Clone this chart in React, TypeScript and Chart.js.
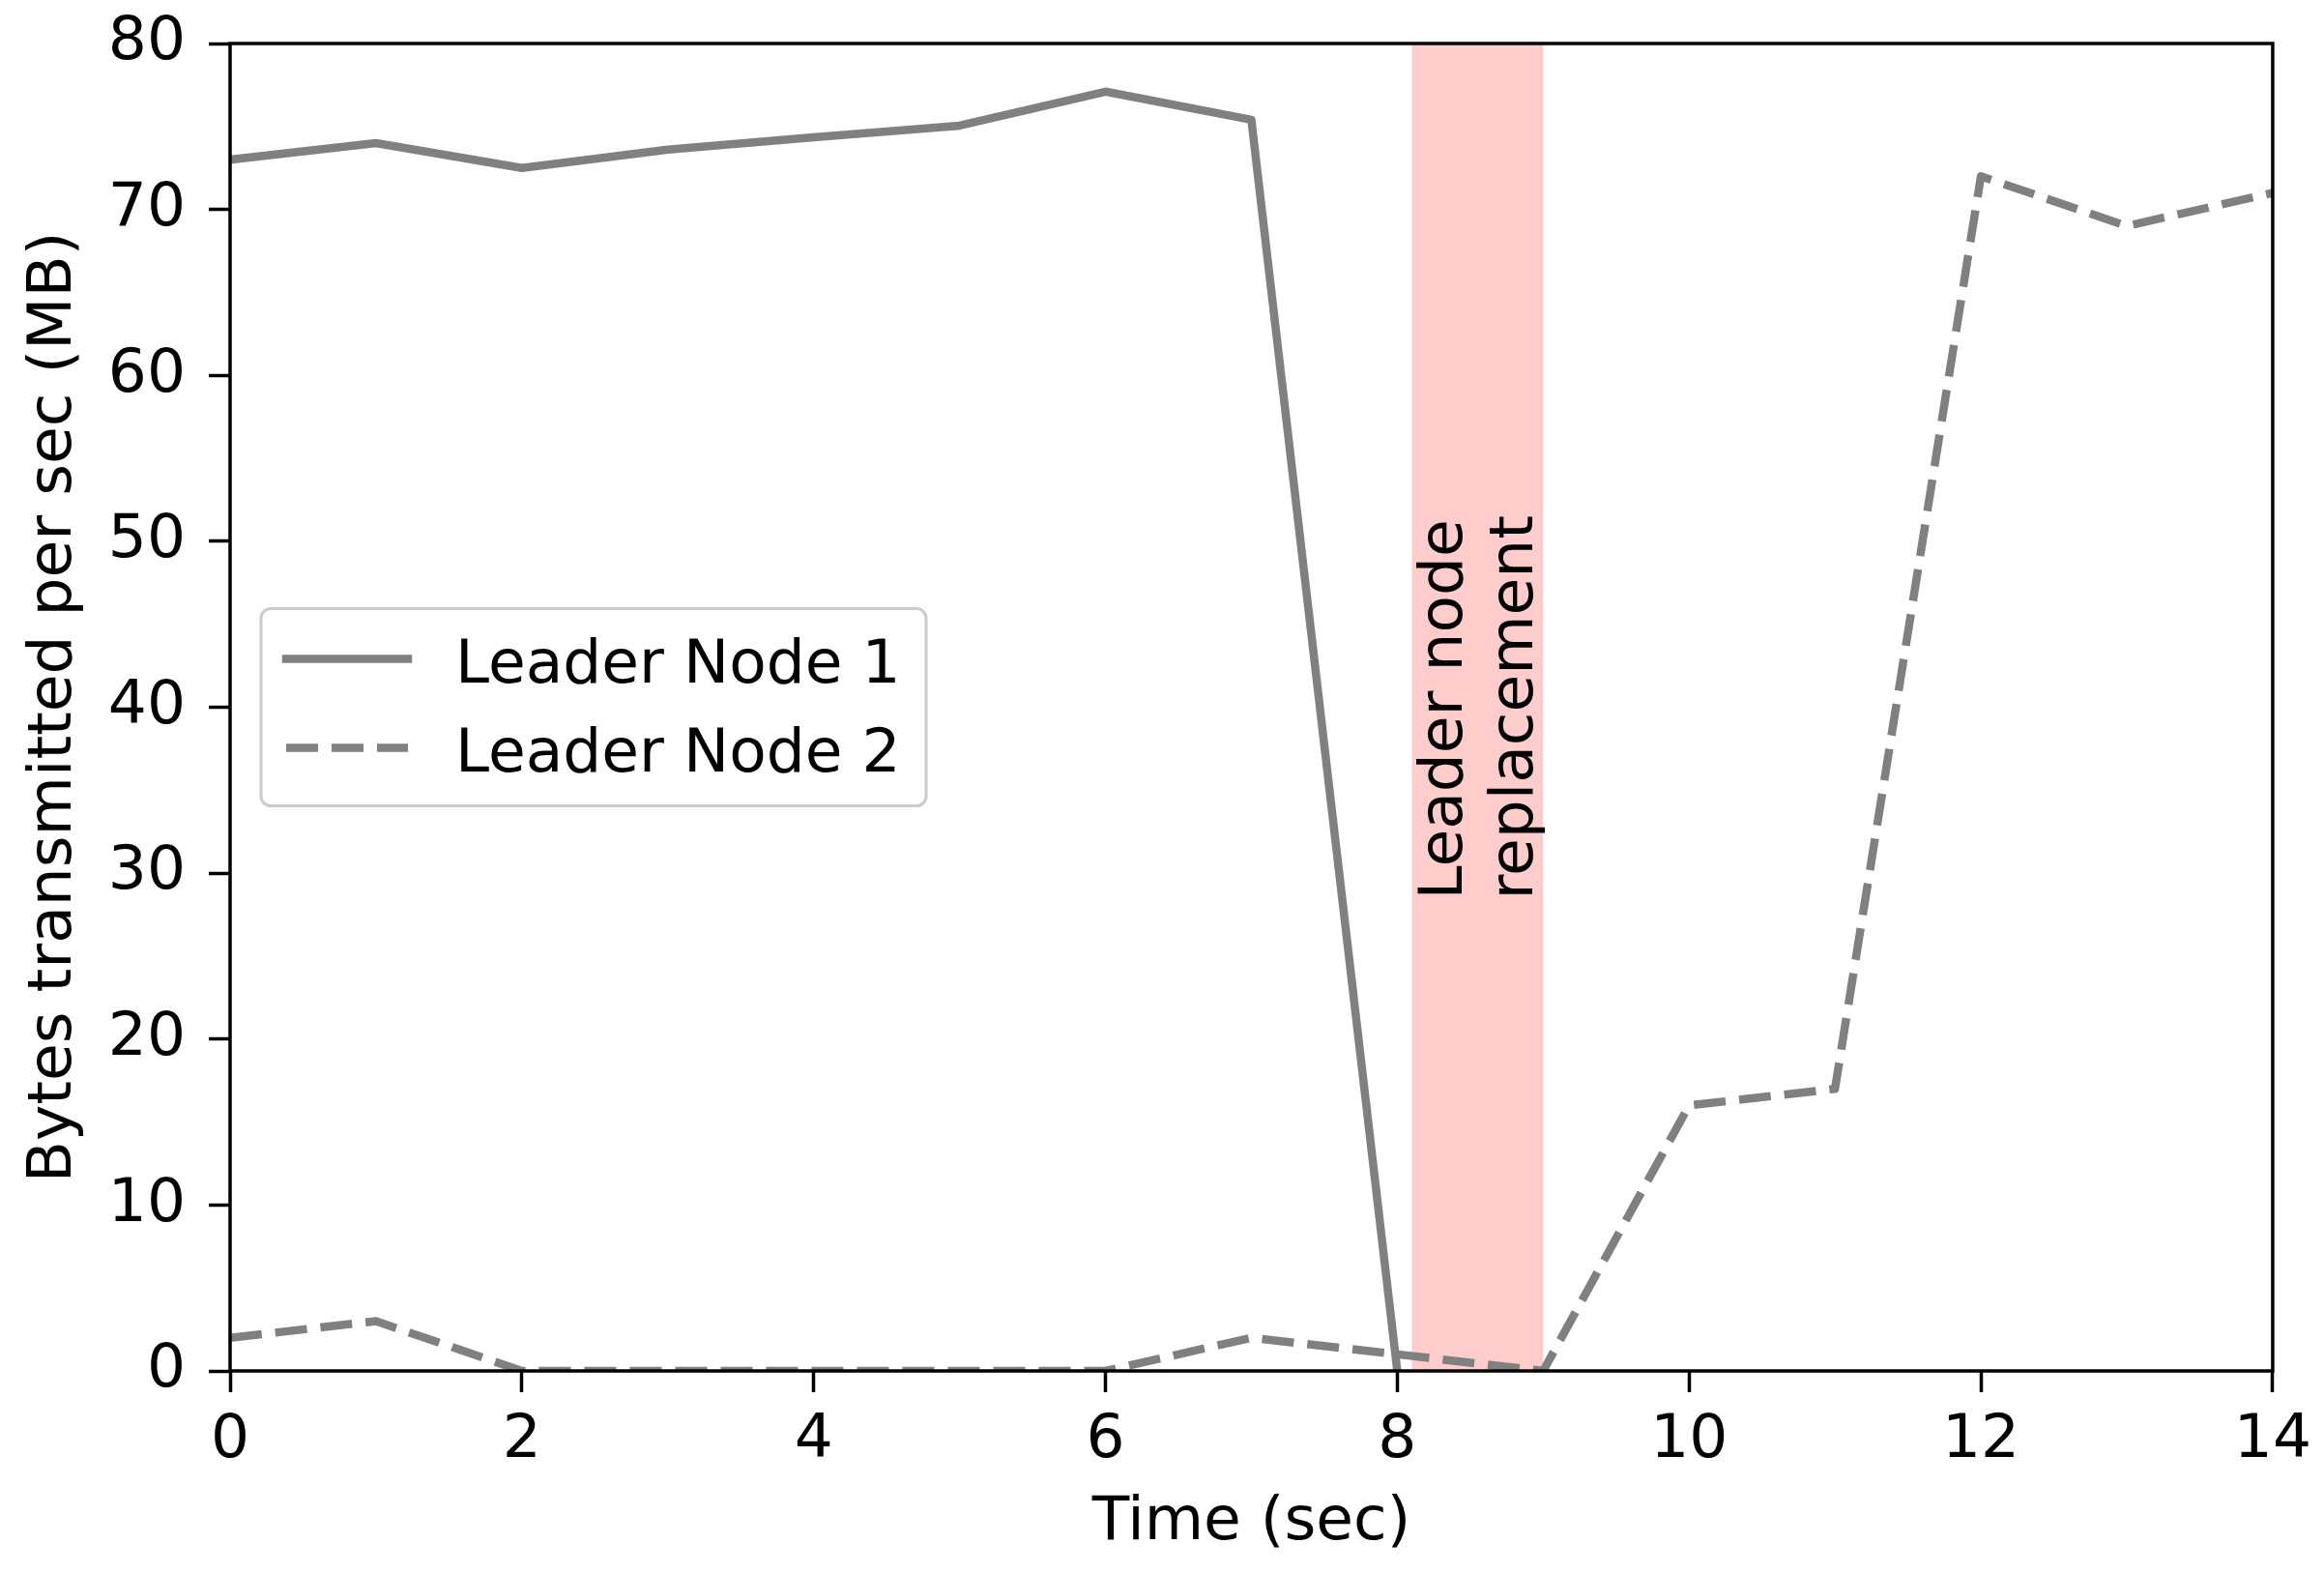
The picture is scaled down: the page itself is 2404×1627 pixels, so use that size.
import React, { useEffect, useRef } from "react";
import { Chart, registerables } from "chart.js";

Chart.register(...registerables);

const TIME = [0, 1, 2, 3, 4, 5, 6, 7, 8, 9, 10, 11, 12, 13, 14];
const LEADER_NODE_1 = [73.0, 74.0, 72.5, 73.6, 74.35, 75.05, 77.1, 75.4, 0];
const LEADER_NODE_2 = [2, 3, 0, 0, 0, 0, 0, 2, 1, 0, 16, 17, 72, 69, 71];
const SERIES_LABELS = ["Leader Node 1", "Leader Node 2"];
const X_TICKS = [0, 2, 4, 6, 8, 10, 12, 14];
const Y_TICKS = [0, 10, 20, 30, 40, 50, 60, 70, 80];
const SPAN_RANGE = [8.1, 9.0];
const SPAN_LABEL = ["Leader node", "replacement"];
const SPAN_LABEL_ANCHOR = [8.44, 28.4];
const X_TITLE = "Time (sec)";
const Y_TITLE = "Bytes transmitted per sec (MB)";

const FONT = "'DejaVu Sans', 'Liberation Sans', sans-serif";
const FS = 63;
const LINE_COLOR = "#808080";
const LW = 8.5;
const DASH = [33, 14];

const spanPlugin = {
  id: "spanPlugin",
  beforeDatasetsDraw(chart: any) {
    const { ctx, chartArea: ca, scales } = chart;
    const x0 = scales.x.getPixelForValue(SPAN_RANGE[0]);
    const x1 = scales.x.getPixelForValue(SPAN_RANGE[1]);
    ctx.save();
    ctx.fillStyle = "rgba(255,0,0,0.2)";
    ctx.fillRect(x0, ca.top, x1 - x0, ca.bottom - ca.top);
    ctx.restore();
  },
};

const overlayPlugin = {
  id: "overlayPlugin",
  afterDatasetsDraw(chart: any) {
    const { ctx, chartArea: ca, scales } = chart;
    // spines
    ctx.save();
    ctx.strokeStyle = "#000";
    ctx.lineWidth = 3.5;
    ctx.strokeRect(ca.left, ca.top, ca.right - ca.left, ca.bottom - ca.top);
    ctx.restore();

    // span annotation
    const ax = scales.x.getPixelForValue(SPAN_LABEL_ANCHOR[0]);
    const ay = scales.y.getPixelForValue(SPAN_LABEL_ANCHOR[1]);
    ctx.save();
    ctx.translate(ax, ay);
    ctx.rotate(-Math.PI / 2);
    ctx.fillStyle = "#000";
    ctx.font = `${FS}px ${FONT}`;
    ctx.textAlign = "left";
    ctx.textBaseline = "alphabetic";
    SPAN_LABEL.forEach((t, i) => ctx.fillText(t, 0, i * 73));
    ctx.restore();

    // legend
    const lw = 688;
    const lh = 204;
    const lx = ca.left + 32;
    const ly = (ca.top + ca.bottom) / 2 - lh / 2;
    ctx.save();
    ctx.beginPath();
    ctx.roundRect(lx, ly, lw, lh, 10);
    ctx.fillStyle = "rgba(255,255,255,0.8)";
    ctx.fill();
    ctx.strokeStyle = "#cccccc";
    ctx.lineWidth = 3;
    ctx.stroke();
    const rows = [52, 144];
    chart.data.datasets.forEach((ds: any, i: number) => {
      const y = ly + rows[i];
      ctx.beginPath();
      ctx.strokeStyle = ds.borderColor;
      ctx.lineWidth = ds.borderWidth;
      ctx.setLineDash(ds.borderDash || []);
      ctx.lineCap = ds.borderCapStyle || "butt";
      ctx.moveTo(lx + 26, y);
      ctx.lineTo(lx + 152, y);
      ctx.stroke();
      ctx.setLineDash([]);
      ctx.fillStyle = "#000";
      ctx.font = `${FS}px ${FONT}`;
      ctx.textAlign = "left";
      ctx.textBaseline = "alphabetic";
      ctx.fillText(ds.label, lx + 201, y + 24);
    });
    ctx.restore();
  },
};

export default function App() {
  const ref = useRef<HTMLCanvasElement>(null);

  useEffect(() => {
    const node1 = LEADER_NODE_1.map((v, i) => ({ x: TIME[i], y: v }));
    const node2 = LEADER_NODE_2.map((v, i) => ({ x: TIME[i], y: v }));
    const tickFont = { family: FONT, size: FS };
    const yTickFont = { family: FONT, size: FS, lineHeight: 0.4 };
    const chart = new Chart(ref.current as HTMLCanvasElement, {
      type: "line",
      data: {
        datasets: [
          {
            label: SERIES_LABELS[0],
            data: node1,
            borderColor: LINE_COLOR,
            borderWidth: LW,
            borderDash: [],
            borderCapStyle: "square",
            borderJoinStyle: "round",
            pointRadius: 0,
            tension: 0,
            fill: false,
            clip: 0,
          },
          {
            label: SERIES_LABELS[1],
            data: node2,
            borderColor: LINE_COLOR,
            borderWidth: LW,
            borderDash: DASH,
            borderCapStyle: "butt",
            borderJoinStyle: "round",
            pointRadius: 0,
            tension: 0,
            fill: false,
            clip: 0,
          },
        ] as any,
      },
      options: {
        responsive: false,
        devicePixelRatio: 1,
        animation: false,
        layout: { padding: { top: 45, right: 53, bottom: 0, left: 0 } },
        plugins: { legend: { display: false }, tooltip: { enabled: false } },
        scales: {
          x: {
            type: "linear",
            min: 0,
            max: 14,
            afterBuildTicks: (s: any) => {
              s.ticks = X_TICKS.map((v) => ({ value: v }));
            },
            afterFit: (s: any) => {
              s.height = 209;
            },
            ticks: { font: tickFont, color: "#000", padding: 13, autoSkip: false, maxRotation: 0 },
            grid: {
              drawOnChartArea: false,
              drawTicks: true,
              tickLength: 22,
              tickWidth: 3.5,
              tickColor: "#000",
              color: "#000",
            },
            border: { display: false },
            title: {
              display: true,
              text: X_TITLE,
              font: tickFont,
              color: "#000",
              padding: { top: 0, bottom: 14 },
            },
          },
          y: {
            type: "linear",
            min: 0,
            max: 80,
            afterBuildTicks: (s: any) => {
              s.ticks = Y_TICKS.map((v) => ({ value: v }));
            },
            afterFit: (s: any) => {
              s.width = 238;
            },
            ticks: { font: yTickFont, color: "#000", padding: 24, autoSkip: false },
            grid: {
              drawOnChartArea: false,
              drawTicks: true,
              tickLength: 22,
              tickWidth: 3.5,
              tickColor: "#000",
              color: "#000",
            },
            border: { display: false },
            title: {
              display: true,
              text: Y_TITLE,
              font: tickFont,
              color: "#000",
              padding: { top: 19, bottom: 0 },
            },
          },
        },
      } as any,
      plugins: [spanPlugin, overlayPlugin],
    });
    return () => chart.destroy();
  }, []);

  return (
    <div
      style={{
        position: "fixed",
        left: 0,
        top: 0,
        width: 2404,
        height: 1627,
        background: "#fff",
      }}
    >
      <canvas
        ref={ref}
        width={2404}
        height={1627}
        style={{ display: "block", width: 2404, height: 1627 }}
      />
    </div>
  );
}
